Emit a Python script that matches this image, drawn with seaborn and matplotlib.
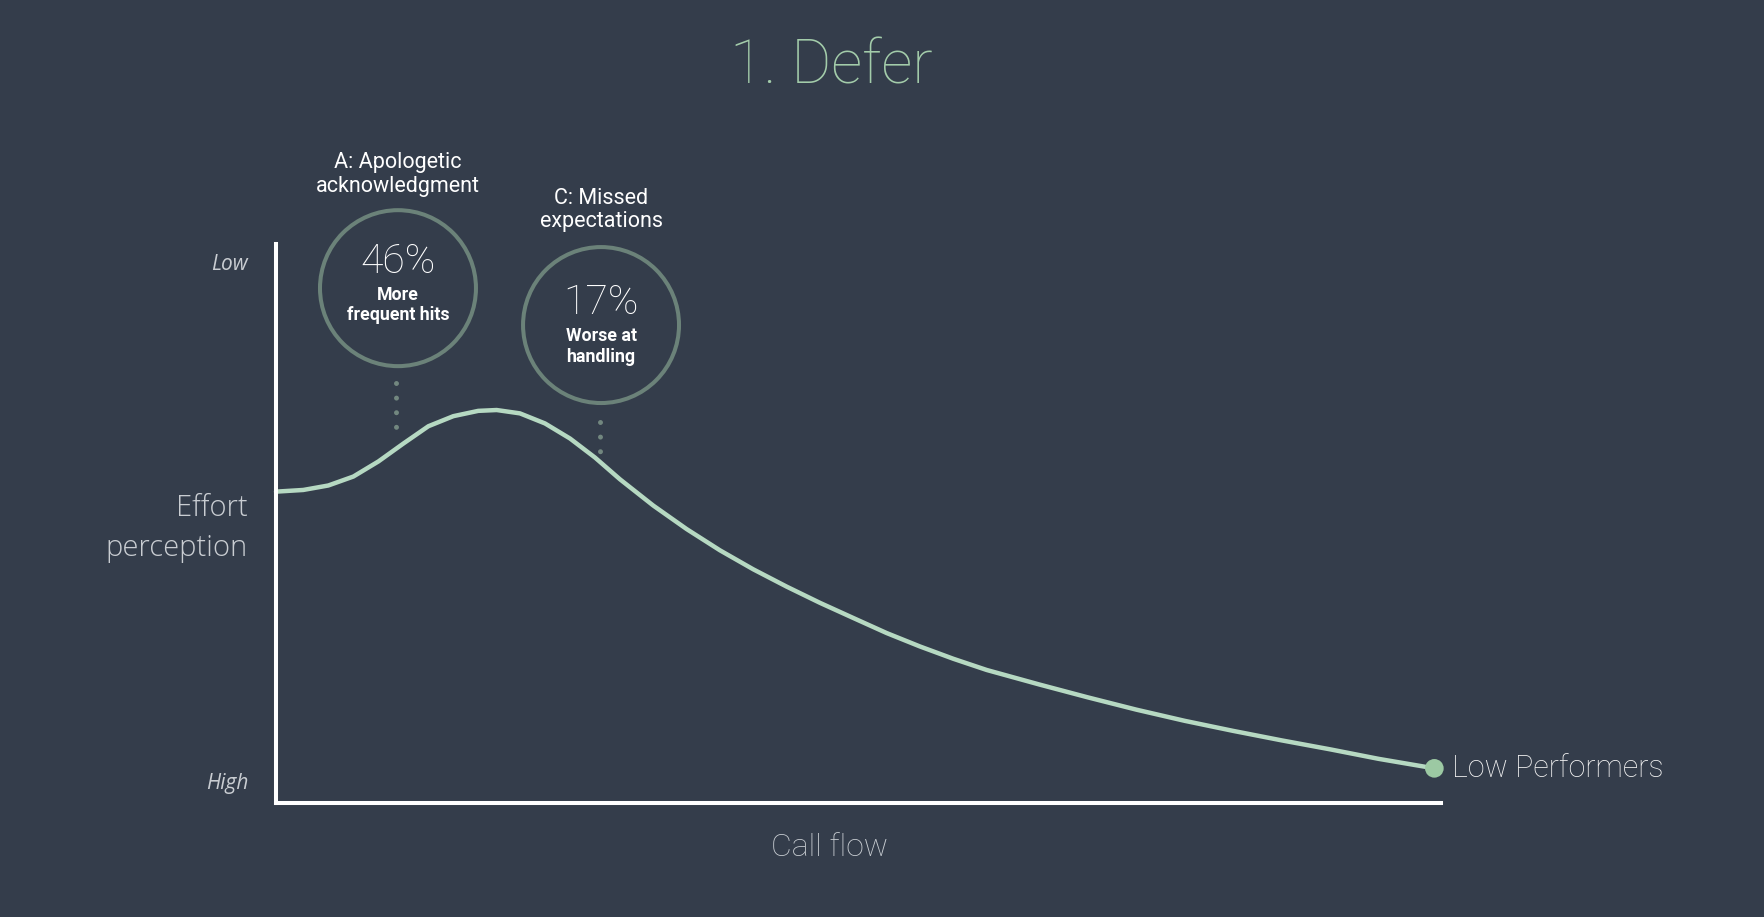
import matplotlib
matplotlib.use("Agg")
import matplotlib.pyplot as plt
import seaborn as sns
import pandas as pd

# curve (x = call flow 0-100, y = effort 0 high .. 100 low)
flow_x = [0, 2.34, 4.49, 6.64, 8.79, 10.93, 13.08, 15.22, 17.36, 18.94, 20.94, 23.09,
          25.24, 27.38, 29.53, 32.39, 35.25, 38.11, 40.97, 43.84, 46.70, 49.55, 52.42,
          55.28, 58.14, 61.00, 65.52, 69.68, 73.85, 78.0, 82.16, 86.33, 90.48, 94.64, 99.43]
effort_y = [55.7, 56.0, 56.8, 58.4, 61.1, 64.3, 67.4, 69.2, 70.15, 70.3, 69.7, 67.9,
            65.2, 61.8, 57.9, 53.2, 49.0, 45.2, 41.8, 38.7, 35.8, 33.1, 30.4,
            28.0, 25.8, 23.8, 21.2, 18.9, 16.7, 14.7, 12.9, 11.2, 9.6, 7.9, 6.2]

series_name = "Low Performers"

# callouts
callout_x = [10.47, 27.9]
callout_y = [92.1, 85.5]
callout_titles = [["A: Apologetic", "acknowledgment"], ["C: Missed", "expectations"]]
callout_values = ["46%", "17%"]
callout_notes = [["More", "frequent hits"], ["Worse at", "handling"]]
leader_x = [10.27, 27.8]
leader_top = [75.2, 68.2]
leader_bottom = [67.0, 62.7]

y_ticks = [3.85, 96.8]
y_tick_labels = ["High", "Low"]

BG = "#343d4b"
CURVE = "#b6d9c2"
DOT = "#9cc9a3"
RING = "#6b8279"

sns.set_theme(style="white", rc={"axes.facecolor": BG, "figure.facecolor": BG})
plt.rcParams["font.family"] = ["Roboto", "DejaVu Sans"]

fig = plt.figure(figsize=(17.65, 9.17), dpi=100)
ax = fig.add_axes([276 / 1765, 1 - 803 / 917, 1165 / 1765, 559 / 917])

df = pd.DataFrame({"flow": flow_x, "effort": effort_y})
sns.lineplot(data=df, x="flow", y="effort", ax=ax, color=CURVE, linewidth=3.2,
             solid_capstyle="round", solid_joinstyle="round", clip_on=False)
end = df.iloc[[-1]]
sns.scatterplot(data=end, x="flow", y="effort", ax=ax, color=DOT, s=180,
                edgecolor="none", zorder=5, clip_on=False)
ax.annotate(series_name, xy=(end["flow"].iloc[0], end["effort"].iloc[0]),
            xytext=(13, 0), textcoords="offset points", ha="left", va="center",
            fontsize=22, fontweight="light", color="#f2f2f2")

# callout rings
ax.scatter(callout_x, callout_y, s=12611, facecolors="none", edgecolors=RING,
           linewidths=2.9, clip_on=False, zorder=4)

for i in range(2):
    ax.plot([leader_x[i], leader_x[i]], [leader_top[i], leader_bottom[i]], color="#72877f",
            linewidth=3.6, linestyle=(0, (0.001, 2.92)), dash_capstyle="round", clip_on=False)

# text inside / above the rings (offsets in points from ring center)
title_off = [[86.6, 69.3], [87.1, 70.6]]
value_off = [10.6, 7.7]
note_off = [[-8.6, -23.0], [-11.5, -26.4]]
for i in range(2):
    cx, cy = callout_x[i], callout_y[i]
    for line, off in zip(callout_titles[i], title_off[i]):
        ax.annotate(line, xy=(cx, cy), xytext=(0, off), textcoords="offset points",
                    ha="center", va="baseline", fontsize=15.5, color="white",
                    annotation_clip=False)
    ax.annotate(callout_values[i], xy=(cx, cy), xytext=(0, value_off[i]),
                textcoords="offset points", ha="center", va="baseline", fontsize=29.5,
                fontweight="light", color="white", annotation_clip=False)
    for line, off in zip(callout_notes[i], note_off[i]):
        ax.annotate(line, xy=(cx, cy), xytext=(0, off), textcoords="offset points",
                    ha="center", va="baseline", fontsize=12.8, fontweight="bold",
                    color="white", annotation_clip=False)

ax.set_xlim(0, 100)
ax.set_ylim(0, 100)
ax.set_xticks([])
ax.set_yticks(y_ticks)
ax.set_yticklabels(y_tick_labels, fontsize=15, fontstyle="italic",
                   family=["Open Sans", "DejaVu Sans"], color="#c9cdd2")
ax.tick_params(axis="y", length=0, pad=20)

for side in ["top", "right"]:
    ax.spines[side].set_visible(False)
for side in ["left", "bottom"]:
    ax.spines[side].set_color("white")
    ax.spines[side].set_linewidth(2.9)

ax.set_ylabel("Effort\nperception", rotation=0, ha="right", va="center", fontsize=21,
              family=["Open Sans", "DejaVu Sans"], fontweight="light", color="#c9cdd2",
              linespacing=1.45)
ax.yaxis.set_label_coords(-0.0243, 0.492)
ax.set_xlabel("Call flow", fontsize=23, fontweight="light", color="#c9ced3", va="center")
ax.xaxis.set_label_coords(0.475, -0.080)

fig.text(831 / 1765, 1 - 83.3 / 917, "1. Defer", ha="center", va="baseline", fontsize=44,
         fontweight="light", color="#a3ccaa")

fig.savefig("out.png", dpi=100, facecolor=BG)
